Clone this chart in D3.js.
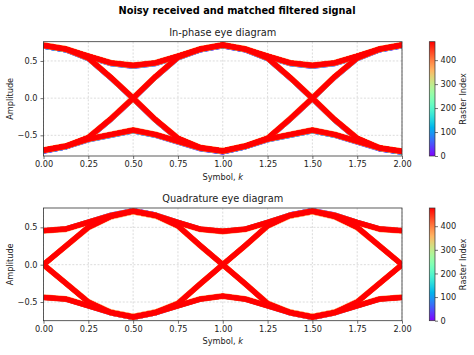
<!DOCTYPE html>
<html><head><meta charset="utf-8">
<script src="https://cdn.jsdelivr.net/npm/d3@7"></script>
<style>
body{margin:0;background:#fff}
svg{display:block}
text{font-family:"DejaVu Sans",sans-serif;fill:#222}
</style>
</head><body>
<svg id="chart" width="474" height="355"></svg>
<script>
// ---------- data ----------
const kSamples = [0,0.125,0.25,0.375,0.5,0.625,0.75,0.875,1,1.125,1.25,1.375,1.5,1.625,1.75,1.875,2];
const symbolTicks = [0,0.25,0.5,0.75,1,1.25,1.5,1.75,2];
const ampTicks = [-0.5,0,0.5];
const rasterTicks = [0,100,200,300,400];
const rasterMax = 477;

// In-phase traces (one per symbol pattern), values at kSamples
const inphaseTraces = [
  [0.71,0.66,0.565,0.475,0.44,0.475,0.565,0.66,0.715,0.66,0.565,0.475,0.44,0.475,0.565,0.66,0.715],
  [-0.70,-0.645,-0.55,-0.49,-0.43,-0.49,-0.58,-0.67,-0.71,-0.645,-0.55,-0.49,-0.43,-0.49,-0.58,-0.67,-0.715],
  [0.71,0.66,0.54,0.28,0.0,-0.29,-0.54,-0.665,-0.71,-0.645,-0.54,-0.28,0.0,0.29,0.54,0.66,0.715],
  [-0.70,-0.645,-0.53,-0.28,0.0,0.29,0.55,0.66,0.715,0.66,0.54,0.28,0.0,-0.29,-0.54,-0.67,-0.715],
  [0.71,0.66,0.565,0.475,0.44,0.475,0.565,0.66,0.715,0.66,0.54,0.28,0.0,-0.29,-0.54,-0.67,-0.715],
  [-0.70,-0.645,-0.55,-0.49,-0.43,-0.49,-0.58,-0.67,-0.71,-0.645,-0.54,-0.28,0.0,0.29,0.54,0.66,0.715],
  [0.71,0.66,0.54,0.28,0.0,-0.29,-0.54,-0.665,-0.71,-0.645,-0.55,-0.49,-0.43,-0.49,-0.58,-0.67,-0.715],
  [-0.70,-0.645,-0.53,-0.28,0.0,0.29,0.55,0.66,0.715,0.66,0.565,0.475,0.44,0.475,0.565,0.66,0.715]
];

// Quadrature traces (one per symbol pattern), values at kSamples
const quadTraces = [
  [0.455,0.478,0.568,0.657,0.716,0.66,0.565,0.475,0.447,0.475,0.565,0.66,0.716,0.66,0.565,0.478,0.455],
  [-0.437,-0.46,-0.55,-0.64,-0.70,-0.64,-0.55,-0.46,-0.42,-0.46,-0.55,-0.64,-0.70,-0.64,-0.55,-0.46,-0.437],
  [0.0,0.25,0.50,0.645,0.716,0.66,0.52,0.255,0.0,-0.255,-0.52,-0.64,-0.70,-0.64,-0.50,-0.25,0.0],
  [0.0,-0.25,-0.50,-0.64,-0.70,-0.64,-0.52,-0.255,0.0,0.255,0.52,0.66,0.716,0.645,0.50,0.25,0.0],
  [0.455,0.478,0.568,0.657,0.716,0.66,0.52,0.255,0.0,-0.255,-0.52,-0.64,-0.70,-0.64,-0.55,-0.46,-0.437],
  [-0.437,-0.46,-0.55,-0.64,-0.70,-0.64,-0.52,-0.255,0.0,0.255,0.52,0.66,0.716,0.66,0.565,0.478,0.455],
  [0.0,0.25,0.50,0.645,0.716,0.66,0.565,0.475,0.447,0.475,0.565,0.66,0.716,0.645,0.50,0.25,0.0],
  [0.0,-0.25,-0.50,-0.64,-0.70,-0.64,-0.55,-0.46,-0.42,-0.46,-0.55,-0.64,-0.70,-0.64,-0.50,-0.25,0.0]
];

// raster index layers and the small drift visible as coloured fringes
const rasterLevels = [0, 80, 160, 240, 300, 350, 390, 420, 445, 462, 477];
const inphaseDrift = [-0.024,-0.022,-0.019,-0.016,-0.012,-0.009,0.004,-0.003,-0.001,0,0.001];
const quadScale    = [1.028,1.024,1.02,1.016,1.012,1.009,0.99,1.004,1.002,1.0,1.0];
const layerWidth   = [3.4,3.4,3.4,3.4,3.6,3.8,5.6,5.6,5.0,4.8,4.6];
const layerOpacity = [0.5,0.5,0.5,0.5,0.55,0.6,0.5,0.6,0.85,0.9,0.9];

// ---------- helpers ----------
function rainbow(t){
  const r=Math.min(1,Math.abs(2*t-0.5)), g=Math.max(0,Math.sin(Math.PI*t)), b=Math.max(0,Math.cos(Math.PI*t/2));
  return d3.rgb(r*255,g*255,b*255).formatHex();
}

const svg = d3.select("#chart");
const L = 43.5, R = 402;
const x = d3.scaleLinear().domain([0,2]).range([L,R]);

svg.append("text").attr("x",237).attr("y",14).attr("text-anchor","middle")
  .style("font-size","9.8px").style("font-weight","bold").style("fill","#000")
  .text("Noisy received and matched filtered signal");

const panels = [
  {title:"In-phase eye diagram", top:41.7, bottom:156, dom:[-0.778,0.759], traces:inphaseTraces, mode:"drift", id:"a"},
  {title:"Quadrature eye diagram", top:208, bottom:320.7, dom:[-0.75,0.759], traces:quadTraces, mode:"scale", id:"b"}
];

const defs = svg.append("defs");
const grad = defs.append("linearGradient").attr("id","cmap").attr("x1",0).attr("y1",1).attr("x2",0).attr("y2",0);
d3.range(0,1.0001,0.05).forEach(t=>grad.append("stop").attr("offset",t).attr("stop-color",rainbow(t)));

panels.forEach(p=>{
  const y = d3.scaleLinear().domain(p.dom).range([p.bottom,p.top]);
  defs.append("clipPath").attr("id","clip"+p.id).append("rect")
    .attr("x",L).attr("y",p.top).attr("width",R-L).attr("height",p.bottom-p.top);
  const g = svg.append("g");
  // grid
  g.selectAll(".gx").data(symbolTicks).enter().append("line")
    .attr("x1",d=>x(d)).attr("x2",d=>x(d)).attr("y1",p.top).attr("y2",p.bottom)
    .attr("stroke","#c4c4c4").attr("stroke-width",0.6).attr("stroke-dasharray","2,1.6");
  g.selectAll(".gy").data(ampTicks).enter().append("line")
    .attr("x1",L).attr("x2",R).attr("y1",d=>y(d)).attr("y2",d=>y(d))
    .attr("stroke","#c4c4c4").attr("stroke-width",0.6).attr("stroke-dasharray","2,1.6");
  // traces
  const tg = g.append("g").attr("clip-path","url(#clip"+p.id+")");
  rasterLevels.forEach((ri,li)=>{
    const col = rainbow(ri/rasterMax);
    const line = d3.line().x((d,i)=>x(kSamples[i]))
      .y(d=> p.mode==="drift" ? y(d+inphaseDrift[li]) : y(d*quadScale[li]));
    tg.selectAll(null).data(p.traces).enter().append("path")
      .attr("d",line).attr("fill","none").attr("stroke",col)
      .attr("stroke-width", layerWidth[li])
      .attr("stroke-linejoin","round").attr("stroke-opacity", layerOpacity[li]);
  });
  // frame
  g.append("rect").attr("x",L).attr("y",p.top).attr("width",R-L).attr("height",p.bottom-p.top)
    .attr("fill","none").attr("stroke","#333").attr("stroke-width",0.8);
  // axes
  const ax = g.append("g").attr("transform",`translate(0,${p.bottom})`)
    .call(d3.axisBottom(x).tickValues(symbolTicks).tickFormat(d3.format(".2f")).tickSize(3).tickPadding(2.5));
  const ay = g.append("g").attr("transform",`translate(${L},0)`)
    .call(d3.axisLeft(y).tickValues(ampTicks).tickFormat(d3.format(".1f")).tickSize(3).tickPadding(3));
  [ax,ay].forEach(a=>{a.select(".domain").remove(); a.selectAll("line").attr("stroke","#333").attr("stroke-width",0.7);
    a.selectAll("text").style("font-size","8.2px").style("font-family","DejaVu Sans").attr("fill","#222");});
  // labels
  g.append("text").attr("x",(L+R)/2).attr("y",p.top-6.2).attr("text-anchor","middle")
    .style("font-size","9.8px").text(p.title);
  const xl = g.append("text").attr("x",(L+R)/2).attr("y",p.bottom+23.5).attr("text-anchor","middle").style("font-size","8.2px");
  xl.append("tspan").text("Symbol, ");
  xl.append("tspan").style("font-style","italic").text("k");
  g.append("text").attr("transform",`translate(12.5,${(p.top+p.bottom)/2}) rotate(-90)`)
    .attr("text-anchor","middle").style("font-size","8.2px").text("Amplitude");
  // colorbar
  const cb = d3.scaleLinear().domain([0,rasterMax]).range([p.bottom,p.top]);
  g.append("rect").attr("x",429.3).attr("y",p.top).attr("width",5.7).attr("height",p.bottom-p.top)
    .attr("fill","url(#cmap)").attr("stroke","#333").attr("stroke-width",0.7);
  const ac = g.append("g").attr("transform","translate(435,0)")
    .call(d3.axisRight(cb).tickValues(rasterTicks).tickSize(3).tickPadding(2.5));
  ac.select(".domain").remove();
  ac.selectAll("line").attr("stroke","#333").attr("stroke-width",0.7);
  ac.selectAll("text").style("font-size","8.2px").style("font-family","DejaVu Sans").attr("fill","#222");
  g.append("text").attr("transform",`translate(466,${(p.top+p.bottom)/2}) rotate(-90)`)
    .attr("text-anchor","middle").style("font-size","8.2px").text("Raster Index");
});
</script>
</body></html>
